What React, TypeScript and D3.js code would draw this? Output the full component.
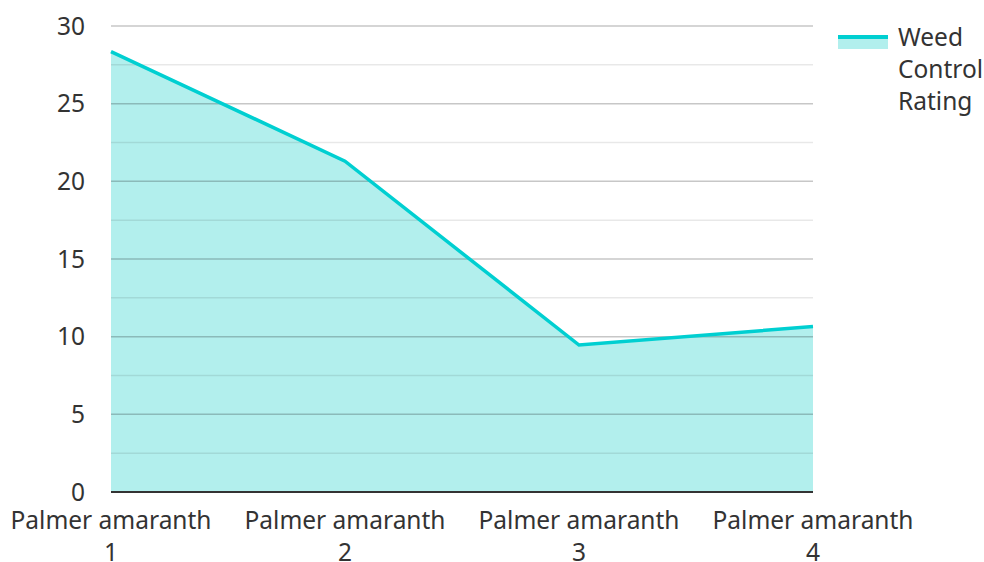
import React, { useEffect, useRef } from 'react';
import * as d3 from 'd3';

const categories = ['Palmer amaranth 1', 'Palmer amaranth 2', 'Palmer amaranth 3', 'Palmer amaranth 4'];
const ratings = [28.35, 21.3, 9.46, 10.65];
const yTicks = [0, 5, 10, 15, 20, 25, 30];
const minorTicks = [2.5, 7.5, 12.5, 17.5, 22.5, 27.5];
const seriesName = ['Weed', 'Control', 'Rating'];

const W = 984;
const H = 562;
const margin = { top: 26, right: 171, bottom: 70, left: 111 };
const font = '"Noto Sans", "Open Sans", sans-serif';
const fs = 24.5;

export default function App() {
  const ref = useRef<SVGSVGElement>(null);

  useEffect(() => {
    const svg = d3.select(ref.current);
    svg.selectAll('*').remove();

    const x = d3.scalePoint<string>().domain(categories).range([margin.left, W - margin.right]);
    const y = d3.scaleLinear().domain([0, 30]).range([H - margin.bottom, margin.top]);

    const g = svg.append('g');

    // area + line
    const area = d3.area<number>()
      .x((d, i) => x(categories[i])!)
      .y0(y(0))
      .y1(d => y(d));
    const line = d3.line<number>()
      .x((d, i) => x(categories[i])!)
      .y(d => y(d));

    g.append('path').attr('d', area(ratings)).attr('fill', '#b2efed');

    // grid lines drawn on top, semi transparent
    g.selectAll('.minor').data(minorTicks).enter().append('line')
      .attr('x1', margin.left).attr('x2', W - margin.right)
      .attr('y1', d => y(d)).attr('y2', d => y(d))
      .attr('stroke', 'rgba(0,0,0,0.09)').attr('stroke-width', 1.5);
    g.selectAll('.major').data(yTicks.filter(t => t > 0)).enter().append('line')
      .attr('x1', margin.left).attr('x2', W - margin.right)
      .attr('y1', d => y(d)).attr('y2', d => y(d))
      .attr('stroke', 'rgba(0,0,0,0.22)').attr('stroke-width', 1.5);

    g.append('path').attr('d', line(ratings))
      .attr('fill', 'none').attr('stroke', '#00cfd1').attr('stroke-width', 3.5);

    // x axis line
    g.append('line')
      .attr('x1', margin.left).attr('x2', W - margin.right)
      .attr('y1', y(0)).attr('y2', y(0))
      .attr('stroke', '#333').attr('stroke-width', 2);

    // y labels
    g.selectAll('.ylab').data(yTicks).enter().append('text')
      .attr('x', 85).attr('y', d => y(d))
      .attr('dy', '0.36em')
      .attr('text-anchor', 'end')
      .attr('font-family', font).attr('font-size', fs).attr('fill', '#333')
      .text(d => d);

    // x labels, wrapped
    g.selectAll('.xlab').data(categories).enter().append('text')
      .attr('text-anchor', 'middle')
      .attr('font-family', font).attr('font-size', fs).attr('fill', '#333')
      .each(function (d) {
        const parts = [d.slice(0, d.lastIndexOf(' ')), d.slice(d.lastIndexOf(' ') + 1)];
        parts.forEach((p, i) => {
          d3.select(this).append('tspan')
            .attr('x', x(d)!)
            .attr('y', 529 + i * 32)
            .text(p);
        });
      });

    // legend
    const lg = svg.append('g');
    lg.append('rect').attr('x', 838).attr('y', 36).attr('width', 50).attr('height', 13).attr('fill', '#b2efed');
    lg.append('line').attr('x1', 838).attr('x2', 888).attr('y1', 37).attr('y2', 37)
      .attr('stroke', '#00cfd1').attr('stroke-width', 4);
    lg.selectAll('text').data(seriesName).enter().append('text')
      .attr('x', 898).attr('y', (d, i) => 46 + i * 32)
      .attr('font-family', font).attr('font-size', fs).attr('fill', '#333')
      .text(d => d);
  }, []);

  return (
    <svg ref={ref} width={W} height={H} style={{ position: 'absolute', left: 0, top: 0, background: '#fff' }} />
  );
}
